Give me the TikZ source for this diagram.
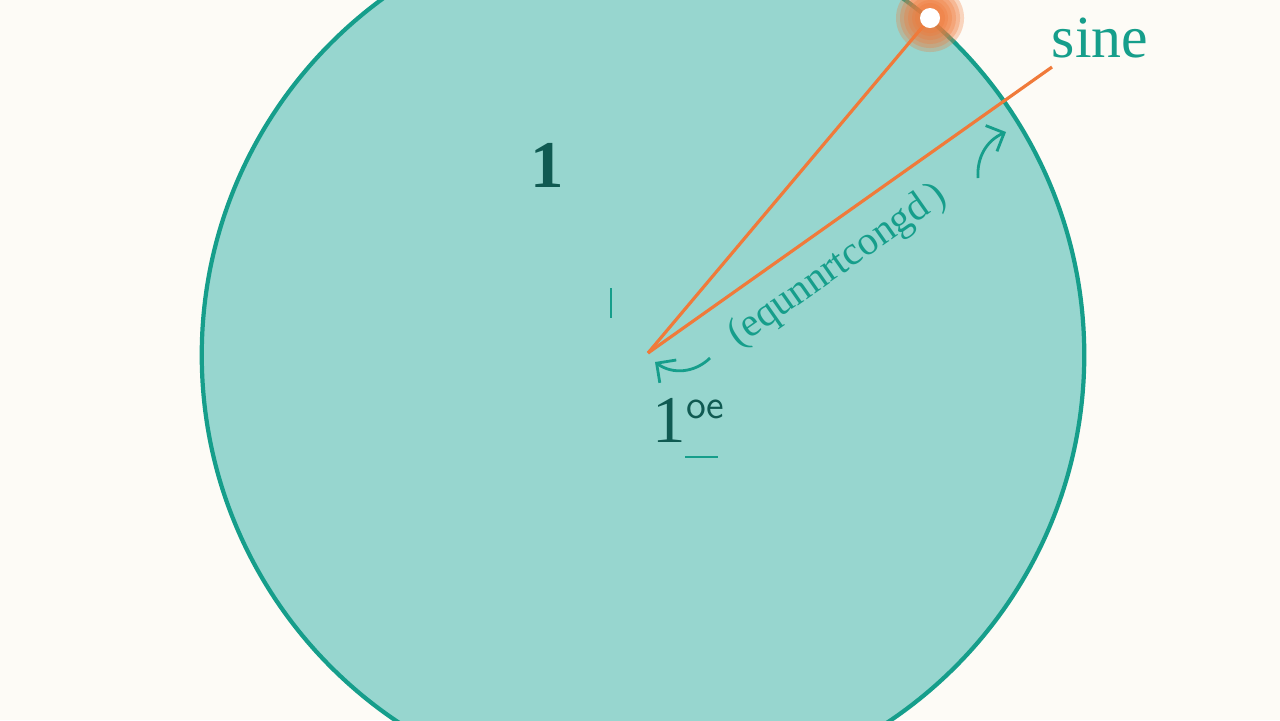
\documentclass[tikz,border=0pt]{standalone}
\usepackage{fontspec}
\setmainfont{Liberation Serif}
\usetikzlibrary{arrows.meta}
\definecolor{nennhat}{HTML}{FDFBF6}
\definecolor{mauhinh}{HTML}{97D6CF}
\definecolor{vienhinh}{HTML}{169E8B}
\definecolor{camsin}{HTML}{F07A3A}
\definecolor{chudam}{HTML}{105A52}

\begin{document}
\begin{tikzpicture}[x=0.01cm,y=-0.01cm,vienhinh,
	tiasin/.style={camsin,line width=0.9pt},
	cungmui/.style={vienhinh,line width=0.8pt,-{Straight Barb[length=4pt,width=8pt]}}]
				\useasboundingbox (0,0) rectangle (1280,720);
				\fill[nennhat] (0,0) rectangle (1280,720);
				\clip (0,0) rectangle (1280,720);
				\filldraw[fill=mauhinh,draw=vienhinh,line width=1.2pt] (643,355) circle (4.41cm);
				\coordinate (O) at (648,353);
				\coordinate (P) at (930,18);
				\coordinate (Q) at (1052,67);
				\draw[tiasin] (O) -- (P);
				\draw[tiasin] (O) -- (Q);
				% quang cam quanh diem
				\foreach \r in {0.34,0.30,0.26,0.22,0.18,0.15}
					\fill[camsin,opacity=0.3] (P) circle (\r cm);
				\node[circle,fill=white,inner sep=0pt,minimum size=0.2cm] (diem) at (P) {};
				\node[text=vienhinh,font=\fontsize{17}{20}\selectfont] (sine) at (1100,38) {sine};
				\node[text=chudam,font=\fontsize{19}{22}\selectfont\bfseries] (mot) at (547,165) {1};
				\draw[line width=0.8pt] (611,288) -- (611,318);
				\node[text=chudam,inner sep=0pt,anchor=base west] (motoe) at (652,442)
					{\fontsize{19}{22}\selectfont 1\raisebox{6.8pt}{\sffamily\fontsize{11.5}{13}\selectfont oe}};
				\draw[line width=0.8pt] (685,457) -- (718,457);
				\node[text=vienhinh,rotate=35,font=\fontsize{11.5}{14}\selectfont] (nhan) at (838,266) {(equnnrtcongd\,)};
				\draw[cungmui] (710,358) to[bend left=40] (655,362);
				\draw[cungmui] (978,178) to[bend left=35] (1006,132);
			\end{tikzpicture}
\end{document}
